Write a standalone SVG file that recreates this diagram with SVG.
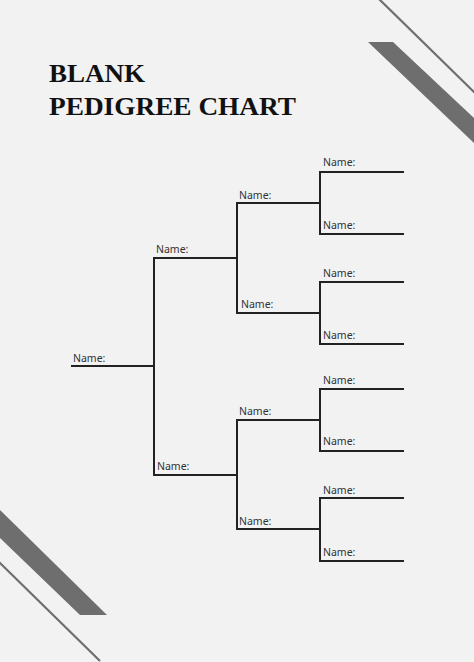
<svg xmlns="http://www.w3.org/2000/svg" width="474" height="662" viewBox="0 0 474 662">
<style>
.bg{fill:#f2f2f2}
.deco{fill:#6e6e6e}
.decol{stroke:#6e6e6e;stroke-width:2.2;fill:none}
.title{font-family:"Liberation Serif","DejaVu Serif",serif;font-weight:bold;font-size:25px;fill:#111}
.ln{stroke:#222;stroke-width:2;fill:none;stroke-linecap:square}
.lbl{font-family:"Noto Sans","Open Sans",sans-serif;font-size:10.5px;fill:#333}
</style>
<rect class="bg" x="0" y="0" width="474" height="662"/>
<g id="decor">
<line class="decol" x1="379" y1="-1" x2="475" y2="93"/>
<polygon class="deco" points="368,42 393,42 474,118 474,143"/>
<polygon class="deco" points="0,510 107,615 80,615 0,538"/>
<line class="decol" x1="-1" y1="562" x2="100" y2="661"/>
</g>
<g id="title">
<text class="title" x="49" y="82" textLength="96" lengthAdjust="spacingAndGlyphs">BLANK</text>
<text class="title" x="49" y="115" textLength="247" lengthAdjust="spacingAndGlyphs">PEDIGREE CHART</text>
</g>
<g id="connectors">
<path class="ln" d="M72,366 H154"/>
<path class="ln" d="M237,258 H154 V475 H237"/>
<path class="ln" d="M320,203 H237 V313 H320"/>
<path class="ln" d="M320,420 H237 V529 H320"/>
<path class="ln" d="M403,172 H320 V234 H403"/>
<path class="ln" d="M403,282 H320 V344 H403"/>
<path class="ln" d="M403,389 H320 V451 H403"/>
<path class="ln" d="M403,498 H320 V561 H403"/>
</g>
<g id="n-root"><text class="lbl" x="73" y="362">Name:</text></g>
<g id="n-f"><text class="lbl" x="156" y="253">Name:</text></g>
<g id="n-m"><text class="lbl" x="157" y="470">Name:</text></g>
<g id="n-ff"><text class="lbl" x="239" y="199">Name:</text></g>
<g id="n-fm"><text class="lbl" x="241" y="308">Name:</text></g>
<g id="n-mf"><text class="lbl" x="239" y="415">Name:</text></g>
<g id="n-mm"><text class="lbl" x="239" y="525">Name:</text></g>
<g id="n-fff"><text class="lbl" x="323" y="166">Name:</text></g>
<g id="n-ffm"><text class="lbl" x="323" y="229">Name:</text></g>
<g id="n-fmf"><text class="lbl" x="323" y="277">Name:</text></g>
<g id="n-fmm"><text class="lbl" x="323" y="339">Name:</text></g>
<g id="n-mff"><text class="lbl" x="323" y="384">Name:</text></g>
<g id="n-mfm"><text class="lbl" x="323" y="445">Name:</text></g>
<g id="n-mmf"><text class="lbl" x="323" y="494">Name:</text></g>
<g id="n-mmm"><text class="lbl" x="323" y="556">Name:</text></g>
</svg>
